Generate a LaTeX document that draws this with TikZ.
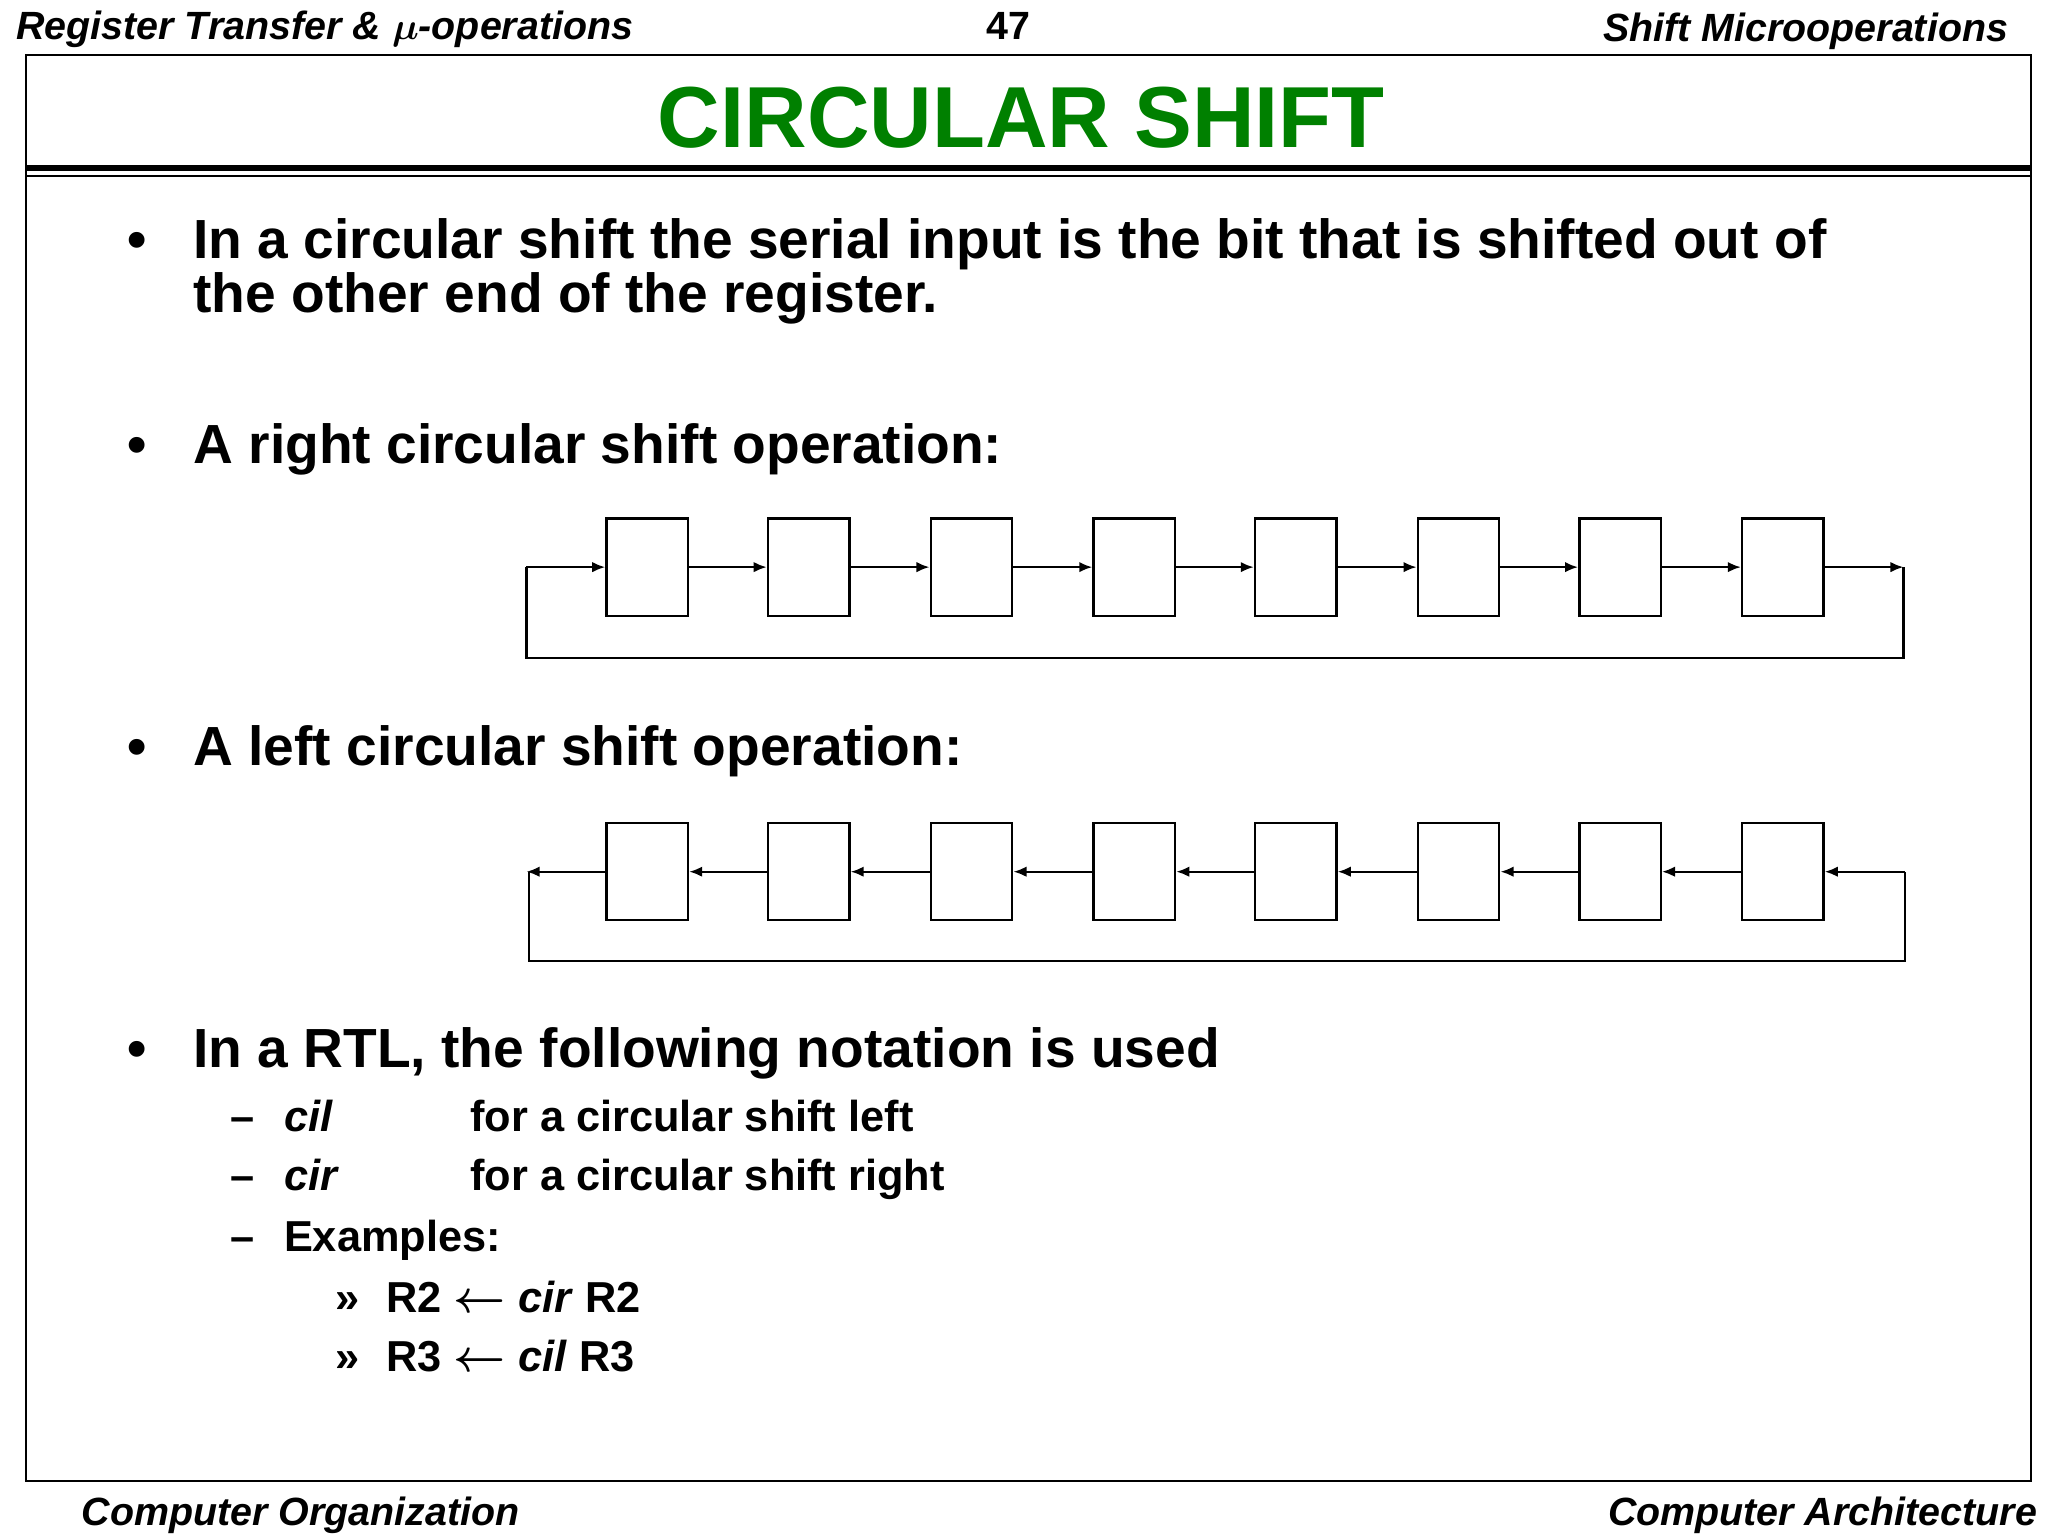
\documentclass[tikz,border=0pt]{standalone}
\usepackage{amsmath,amssymb,bm}
\usepackage{fontspec}
\setmainfont{Liberation Sans}
\usetikzlibrary{arrows.meta}
\definecolor{tgreen}{RGB}{0,128,0}
\begin{document}
\begin{tikzpicture}[x=0.5pt,y=-0.5pt,
  txt/.style={inner sep=0pt,anchor=base west,font=\fontsize{21pt}{25pt}\bfseries},
  sub/.style={inner sep=0pt,anchor=base west,font=\fontsize{16.5pt}{20pt}\bfseries},
  hdr/.style={inner sep=0pt,font=\fontsize{15pt}{18pt}\bfseries\itshape},
  reg/.style={draw,line width=0.9pt,minimum width=31pt,minimum height=37pt,inner sep=0pt},
  arr/.style={line width=0.9pt,-{Latex[length=5pt,width=4pt]}},
  ln/.style={line width=0.9pt}]
\useasboundingbox (0,0) rectangle (1560,1170);
% header
\node[hdr,anchor=base west] (h1) at (12,30) {Register Transfer \& $\bm{\mu}$-operations};
\node[hdr,anchor=base,font=\fontsize{15pt}{18pt}\bfseries] (h2) at (768,30) {47};
\node[hdr,anchor=base east] (h3) at (1530,32) {Shift Microoperations};
\draw[line width=0.6pt] (20,42) rectangle (1547,1128);
\draw[line width=2pt] (20,128) -- (1547,128);
\draw[line width=1pt] (20,134) -- (1547,134);
\node[inner sep=0pt,anchor=base,text=tgreen,font=\fontsize{33pt}{38pt}\bfseries] (title) at (778,112) {CIRCULAR SHIFT};
% bullets
\foreach \y/\n in {197/a,353/b,583/c,813/d}{\node[txt] (bul\n) at (97,\y) {•};}
\node[txt] (t1) at (147,197) {In a circular shift the serial input is the bit that is shifted out of};
\node[txt] (t2) at (147,238) {the other end of the register.};
\node[txt] (t3) at (147,353) {A right circular shift operation:};
\node[txt] (t4) at (147,583) {A left circular shift operation:};
\node[txt] (t5) at (147,813) {In a RTL, the following notation is used};
\node[sub] (d1) at (175,862) {–}; \node[sub] (s1) at (216,862) {\itshape cil}; \node[sub] (f1) at (358,862) {for a circular shift left};
\node[sub] (d2) at (175,907) {–}; \node[sub] (s2) at (216,907) {\itshape cir}; \node[sub] (f2) at (358,907) {for a circular shift right};
\node[sub] (d3) at (175,953) {–}; \node[sub] (s3) at (216,953) {Examples:};
\node[sub] (g1) at (255,1000) {»}; \node[sub] (e1) at (294,1000) {R2 $\bm{\leftarrow}$ \textit{cir} R2};
\node[sub] (g2) at (255,1045) {»}; \node[sub] (e2) at (294,1045) {R3 $\bm{\leftarrow}$ \textit{cil} R3};
% registers
\foreach \i/\x in {1/493,2/616,3/740,4/864,5/987,6/1111,7/1234,8/1358}{
  \node[reg] (r\i) at (\x,432) {};
  \node[reg] (l\i) at (\x,664) {};
}
\foreach \i [evaluate=\i as \j using int(\i+1)] in {1,...,7}{
  \draw[arr] (r\i.east) -- (r\j.west);
  \draw[arr] (l\j.west) -- (l\i.east);
}
\coordinate (ro) at (1450,432);
\coordinate (rb) at (1450,501);
\coordinate (rc) at (401,501);
\coordinate (ri) at (401,432);
\draw[arr] (r8.east) -- (ro);
\draw[ln] (ro) -- (rb) -- (rc) -- (ri);
\draw[arr] (ri) -- (r1.west);
\coordinate (lo) at (401,664);
\coordinate (lt) at (403,664);
\coordinate (lb) at (403,732);
\coordinate (lc) at (1451,732);
\coordinate (li) at (1451,664);
\draw[arr] (l1.west) -- (lo);
\draw[ln] (lt) -- (lb) -- (lc) -- (li);
\draw[arr] (li) -- (l8.east);
% footer
\node[hdr,anchor=base west] (f1b) at (62,1162) {Computer Organization};
\node[hdr,anchor=base east] (f2b) at (1552,1162) {Computer Architecture};
\end{tikzpicture}
\end{document}
